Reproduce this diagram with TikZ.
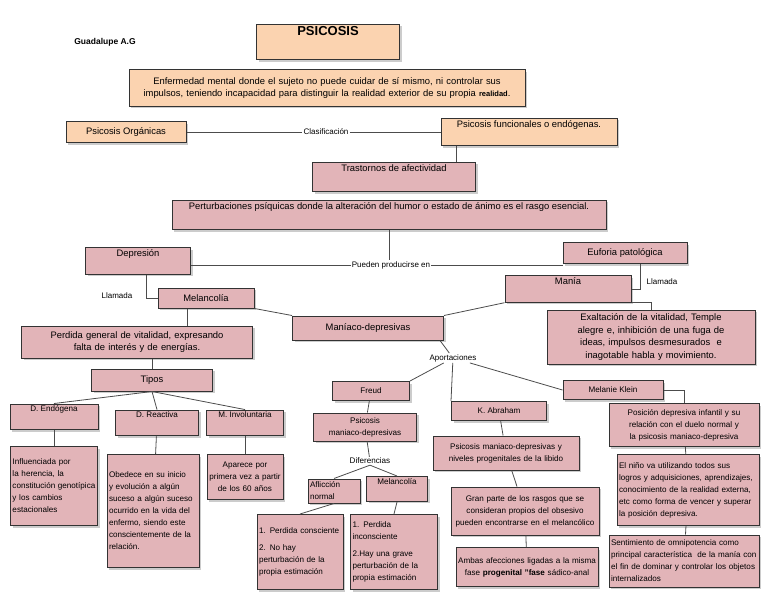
\documentclass[tikz,border=0pt]{standalone}
\usepackage{fontspec}
\setmainfont{Liberation Sans}
\usetikzlibrary{shadows}
\definecolor{rosa}{HTML}{E2B4B8}
\definecolor{durazno}{HTML}{FBD3B0}
\hyphenpenalty=10000
\exhyphenpenalty=10000
\tikzset{
  box/.style={draw=black!80, line width=1pt, fill=rosa, inner sep=2pt, align=center,
    drop shadow={shadow xshift=2pt, shadow yshift=-2pt, opacity=.4}},
  peach/.style={box, fill=durazno},
  lbl/.style={inner sep=1pt, fill=white},
  small/.style={font=\fontsize{8.1}{12}\selectfont},
  link/.style={draw=black!70, line width=.8pt}
}
\begin{document}
\begin{tikzpicture}[x=1pt,y=-1pt, font=\fontsize{9.4}{12.5}\selectfont]
  \useasboundingbox (0,0) rectangle (768,594);

  % Top
  \node[font=\fontsize{8.5}{10}\selectfont\bfseries] (autor) at (105,42) {Guadalupe A.G};
  \node[peach, minimum width=143, minimum height=35, font=\fontsize{13}{14}\selectfont\bfseries] (psicosis) at (328,42) {PSICOSIS\\[8pt]};
  \node[peach, text width=392, minimum height=36] (def) at (327,88)
    {Enfermedad mental donde el sujeto no puede cuidar de sí mismo, ni controlar sus impulsos, teniendo incapacidad para distinguir la realidad exterior de su propia {\bfseries\fontsize{7.5}{9}\selectfont realidad}.};
  \node[peach, minimum width=120, minimum height=21] (organ) at (126,132) {Psicosis Orgánicas};
  \node[lbl, font=\fontsize{8}{9}\selectfont] (clasif) at (326,132) {Clasificación};
  \node[peach, minimum width=176, minimum height=27] (funcion) at (529,132) {Psicosis funcionales o endógenas.\\[4pt]};

  % Afectividad
  \node[box, minimum width=163, minimum height=29] (trast) at (394,177) {Trastornos de afectividad\\[6pt]};
  \node[box, minimum width=434, minimum height=29] (pertur) at (389,215) {Perturbaciones psíquicas donde la alteración del humor o estado de ánimo es el rasgo esencial.\\[6pt]};
  \node[lbl, font=\fontsize{8}{9}\selectfont] (pueden) at (391,265) {Pueden producirse en};
  \node[box, minimum width=105, minimum height=21] (depre) at (138,261) {Depresión\\[3pt]};
  \node[box, minimum width=124, minimum height=21] (euforia) at (625,253) {Euforia patológica};
  \node[font=\fontsize{8}{9}\selectfont] (llamA) at (117,296) {Llamada};
  \node[font=\fontsize{8}{9}\selectfont] (llamB) at (662,282) {Llamada};
  \node[box, minimum width=96, minimum height=20] (melan) at (206,298) {Melancolía};
  \node[box, minimum width=126, minimum height=21] (mania) at (568,289) {Manía\\[3pt]};
  \node[box, minimum width=151, minimum height=24] (manidep) at (368,328) {Maníaco-depresivas};
  \node[box, text width=227, minimum height=32] (perdida) at (137,342)
    {Perdida general de vitalidad, expresando falta de interés y de energías.};
  \node[box, text width=204, minimum height=54] (exalt) at (651,337)
    {Exaltación de la vitalidad, Temple alegre e, inhibición de una fuga de ideas, impulsos desmesurados\ \ e inagotable habla y movimiento.};
  \node[lbl, font=\fontsize{8}{9}\selectfont] (aport) at (453,358) {Aportaciones};

  % Tipos
  \node[box, minimum width=121, minimum height=22] (tipos) at (152,380) {Tipos};
  \node[box, small, minimum width=88, minimum height=22] (endo) at (54,417) {D. Endógena\\[4pt]};
  \node[box, small, minimum width=83, minimum height=24] (react) at (157,423) {D. Reactiva\\[4pt]};
  \node[box, small, minimum width=77, minimum height=24] (invol) at (245,423) {M. Involuntaria\\[4pt]};
  \node[box, small, text width=83, minimum height=79, align=left] (influ) at (54,486)
    {Influenciada por la herencia, la constitución genotípica y los cambios estacionales};
  \node[box, small, text width=88, minimum height=113, align=left] (obed) at (153,511)
    {Obedece en su inicio y evolución a algún suceso a algún suceso ocurrido en la vida del enfermo, siendo este conscientemente de la relación.};
  \node[box, small, text width=72, minimum height=45] (apar) at (245,477)
    {Aparece por primera vez a partir de los 60 años};

  % Freud
  \node[box, small, minimum width=77, minimum height=19] (freud) at (371,391) {Freud};
  \node[box, small, text width=99, minimum height=28] (psfreud) at (365,427) {Psicosis maniaco-depresivas};
  \node[lbl, small] (difer) at (370,461) {Diferencias};
  \node[box, small, text width=48, minimum height=24, align=left] (aflic) at (334,491) {Aflicción normal};
  \node[box, small, minimum width=61, minimum height=20] (melfr) at (397,489) {Melancolía\\[3pt]};
  \node[box, small, text width=82, minimum height=75, align=left] (consc) at (300,552)
    {1. Perdida consciente\\[5pt]2. No hay perturbación de la propia estimación};
  \node[box, small, text width=83, minimum height=75, align=left] (incon) at (394,552)
    {1. Perdida inconsciente\\[5pt]2.Hay una grave perturbación de la propia estimación};

  % Abraham
  \node[box, small, minimum width=95, minimum height=19] (abra) at (499,411) {K. Abraham};
  \node[box, small, text width=142, minimum height=34] (niveles) at (506,453)
    {Psicosis maniaco-depresivas y niveles progenitales de la libido};
  \node[box, small, text width=144, minimum height=48] (rasgos) at (525,511)
    {Gran parte de los rasgos que se consideran propios del obsesivo pueden encontrarse en el melancólico};
  \node[box, small, text width=138, minimum height=39] (ambas) at (527,567)
    {Ambas afecciones ligadas a la misma fase \textbf{progenital "fase} sádico-anal};

  % Klein
  \node[box, small, minimum width=100, minimum height=19] (klein) at (613,390) {Melanie Klein};
  \node[box, small, text width=146, minimum height=43] (posic) at (684,425)
    {Posición depresiva infantil y su relación con el duelo normal y la psicosis maniaco-depresiva};
  \node[box, small, text width=138, minimum height=71, align=left] (nino) at (688,490)
    {El niño va utilizando todos sus logros y adquisiciones, aprendizajes, conocimiento de la realidad externa, etc como forma de vencer y superar la posición depresiva.};
  \node[box, small, text width=146, minimum height=52, align=left] (senti) at (684,561)
    {Sentimiento de omnipotencia como principal característica\ \ de la manía con el fin de dominar y controlar los objetos internalizados};

  % Connectors
  \begin{scope}[link]
    \draw (organ) -- (clasif) -- (funcion);
    \draw (funcion.south -| trast.north east) ++(-20,0) coordinate (f1) -- (f1 |- trast.north);
    \draw (pertur.south) -- (pertur.south |- pueden.north);
    \draw (depre.east |- pueden) -- (pueden) -- (euforia.west |- pueden);
    \draw (depre.south) ++(8,0) coordinate (d1) -- (d1 |- melan.west) -- (melan.west);
    \draw (euforia.south) ++(15,0) coordinate (e1) -- (e1 |- mania.east) -- (mania.east);
    \draw (mania.south east) -| (exalt.north);
    \draw (melan.south east) -- (manidep.north west);
    \draw (mania.south west) -- (manidep.north east);
    \draw (melan.south west) ++(30,0) coordinate (m2) -- (m2 |- perdida.north);
    \draw (manidep.south east) ++(-4,0) coordinate (m3) -- (aport);
    \draw (aport) -- (freud.north east);
    \draw (aport) -- (abra.north west);
    \draw (aport) -- (klein.west);
    \draw (klein.east) -| (posic.north);
    \draw (perdida.south) ++(15,0) coordinate (p1) -- (p1 |- tipos.north);
    \draw (tipos.south) -- (endo.north);
    \draw (tipos.south) -- (react.north);
    \draw (tipos.south) -- (invol.north);
    \draw (endo) -- (influ);
    \draw (react) -- (obed);
    \draw (invol) -- (apar);
    \draw (freud) -- (psfreud);
    \draw (psfreud) -- (difer);
    \draw (difer.south) -- (aflic.north);
    \draw (difer.south) -- (melfr.north);
    \draw (aflic.south) -- (consc.north);
    \draw (melfr.south) -- (incon.north);
    \draw (abra) -- (niveles);
    \draw (niveles) -- (rasgos);
    \draw (rasgos) -- (ambas);
    \draw (posic) -- (nino);
    \draw (nino) -- (senti);
  \end{scope}
\end{tikzpicture}
\end{document}
